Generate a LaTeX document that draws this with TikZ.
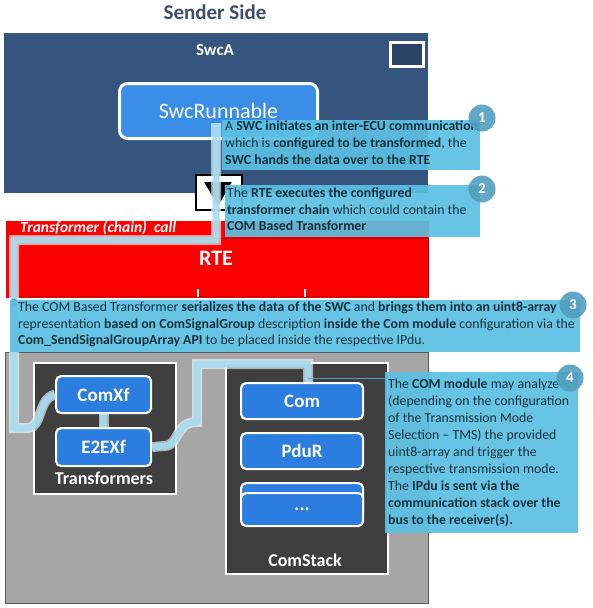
\documentclass[tikz,border=0pt]{standalone}
\usepackage{fontspec}
\setmainfont{Carlito}
\usetikzlibrary{shapes.geometric,calc}
\definecolor{swcablue}{HTML}{35547E}
\definecolor{modblue}{HTML}{2B7DE0}
\definecolor{runblue}{HTML}{3A8EE8}
\definecolor{darkbox}{HTML}{3F3F3F}
\definecolor{graybg}{HTML}{A6A6A6}
\definecolor{callcyan}{RGB}{92,192,226}
\definecolor{numcyan}{HTML}{4F9FBF}
\definecolor{flowcyan}{HTML}{A4DCEE}
\definecolor{titlecol}{HTML}{3D4E6E}
\definecolor{txtcol}{HTML}{16323F}
\definecolor{rtered}{HTML}{FF0000}
\tikzset{
  areabox/.style={draw=white, line width=1.2pt, anchor=north west, inner sep=0pt},
  modbox/.style={draw=white, line width=2.2pt, fill=modblue, rounded corners=5pt, anchor=north west, inner sep=0pt, text=white, font=\fontsize{19}{21}\selectfont\bfseries},
  lbl/.style={text=white, inner sep=0pt},
  callbox/.style={fill=callcyan, fill opacity=0.92, anchor=north west, inner sep=0pt},
  calltext/.style={anchor=north west, align=left, inner sep=0pt, text=txtcol},
  num/.style={circle, fill=numcyan, fill opacity=0.9, text opacity=1, minimum size=27pt, inner sep=0pt, text=white, font=\fontsize{15}{15}\selectfont\bfseries},
  flow/.style={draw=flowcyan, line width=7pt, opacity=0.9, line join=round, preaction={draw=white, line width=10pt, opacity=0.6}},
  thinlink/.style={draw=numcyan, line width=0.8pt}
}
\begin{document}
\begin{tikzpicture}[x=1pt,y=-1pt]
\useasboundingbox[fill=white] (0,0) rectangle (592,608);

% title
\node[text=titlecol, font=\fontsize{21}{23}\selectfont\bfseries] (title) at (215,12) {Sender Side};

% SwcA
\node[areabox, fill=swcablue, minimum width=425pt, minimum height=161pt] (swca) at (3,32) {};
\node[lbl, font=\fontsize{17}{19}\selectfont\bfseries] (swcalbl) at (215,50) {SwcA};
\node[areabox, draw=white, line width=2.5pt, fill=swcablue!80!black, minimum width=33pt, minimum height=24pt] (port) at (389,41) {};
\node[modbox, fill=runblue, line width=3pt, rounded corners=8pt, minimum width=198pt, minimum height=55pt, font=\fontsize{22}{24}\selectfont] (run) at (118,82) {SwcRunnable};

% small white box with triangle
\node[draw=black, line width=1.5pt, fill=white, anchor=north west, minimum width=46pt, minimum height=35pt, inner sep=0pt] (portbox) at (195,174) {};
\node[regular polygon, regular polygon sides=3, shape border rotate=180, fill=black, minimum size=32pt, inner sep=0pt] (tri) at (218,190) {};

% RTE
\node[areabox, draw=none, fill=rtered, minimum width=423pt, minimum height=77pt] (rte) at (5,220) {};
\node[anchor=north west, fill=rtered, draw=red!70!black, line width=0.6pt, minimum width=410pt, minimum height=58pt, inner sep=0pt] (rteinner) at (18,238) {};
\node[lbl, anchor=west, font=\fontsize{15.5}{17}\selectfont\bfseries\itshape] (xflbl) at (20,228) {Transformer (chain)\ \ call};
\node[lbl, font=\fontsize{22}{24}\selectfont\bfseries] (rtelbl) at (216,258) {RTE};
\draw[white, line width=1.5pt] (198,289) -- (198,297);
\draw[white, line width=1.5pt] (305,289) -- (305,297);

% lower gray area
\node[areabox, draw=gray!70!black, line width=0.8pt, fill=graybg, minimum width=423pt, minimum height=251pt] (bsw) at (5,352) {};

% Transformers
\node[areabox, line width=2pt, fill=darkbox, minimum width=142pt, minimum height=131pt] (xfs) at (33,362) {};
\node[modbox, minimum width=95pt, minimum height=37pt] (comxf) at (55,375) {ComXf};
\node[modbox, minimum width=95pt, minimum height=38pt] (e2e) at (55,427) {E2EXf};
\node[lbl, font=\fontsize{18}{20}\selectfont\bfseries] (xfslbl) at (104,478) {Transformers};

% ComStack
\node[areabox, line width=2pt, fill=darkbox, minimum width=162pt, minimum height=211pt] (cs) at (225,362) {};
\node[modbox, minimum width=122pt, minimum height=36pt] (com) at (240,382) {Com};
\node[modbox, minimum width=122pt, minimum height=36pt] (pdur) at (240,432) {PduR};
\node[modbox, minimum width=122pt, minimum height=34pt] (dotsback) at (240,482) {};
\node[modbox, minimum width=122pt, minimum height=33pt] (dots) at (240,492) {...};
\node[lbl, font=\fontsize{18}{20}\selectfont\bfseries] (cslbl) at (305,560) {ComStack};

% flow path
\coordinate (f0) at (216,123);
\coordinate (f1) at (216,240);
\coordinate (f2) at (14,240);
\coordinate (f3) at (14,428);
\coordinate (f4) at (28,428);
\coordinate (f5) at (164,446);
\coordinate (f6) at (197,422);
\coordinate (f7) at (197,364);
\coordinate (f8) at (308,364);
\draw[flow] (f0) -- (f1) -- (f2) -- (f3) -- (f4) .. controls (42,428) and (38,398) .. (comxf.west);
\draw[flow] (comxf.south) -- (e2e.north);
\draw[flow] (e2e.east) -- (f5) .. controls (180,446) and (174,422) .. (f6) -- (f7) -- (f8) -- (f8 |- com.north);
\fill[numcyan] (14,302) circle (3.5pt);

% callout 1
\node[callbox, minimum width=258pt, minimum height=50pt] (c1) at (222,120) {};
\node[calltext, font=\fontsize{13.8}{17}\selectfont] (t1) at (225,121) {A \textbf{SWC initiates an inter-ECU communication}\\which is \textbf{configured to be transformed}, the\\\textbf{SWC hands the data over to the RTE}};
\node[num] (n1) at (482,118) {1};

% callout 2
\node[callbox, minimum width=255pt, minimum height=52pt] (c2) at (225,185) {};
\node[calltext, font=\fontsize{13.8}{16.5}\selectfont] (t2) at (227,188) {The \textbf{RTE executes the configured}\\\textbf{transformer chain} which could contain the\\\textbf{COM Based Transformer}};
\node[num] (n2) at (482,189) {2};

% callout 3
\node[callbox, minimum width=570pt, minimum height=52pt] (c3) at (10,300) {};
\node[calltext, font=\fontsize{13.8}{16.5}\selectfont] (t3) at (18,302) {The COM Based Transformer \textbf{serializes the data of the SWC} and \textbf{brings them into an uint8-array}\\representation \textbf{based on ComSignalGroup} description \textbf{inside the Com module} configuration via the\\\textbf{Com\_SendSignalGroupArray API} to be placed inside the respective IPdu.};
\node[num] (n3) at (573,305) {3};

% callout 4
\node[callbox, minimum width=193pt, minimum height=161pt] (c4) at (385,372) {};
\node[calltext, font=\fontsize{13.8}{17}\selectfont] (t4) at (388,379) {The \textbf{COM module} may analyze\\(depending on the configuration\\of the Transmission Mode\\Selection -- TMS) the provided\\uint8-array and trigger the\\respective transmission mode.\\The \textbf{IPdu is sent via the}\\\textbf{communication stack over the}\\\textbf{bus to the receiver(s).}};
\node[num] (n4) at (570,378) {4};
\draw[thinlink] (f8 |- n4) -- (c4.west |- n4);
\end{tikzpicture}
\end{document}
